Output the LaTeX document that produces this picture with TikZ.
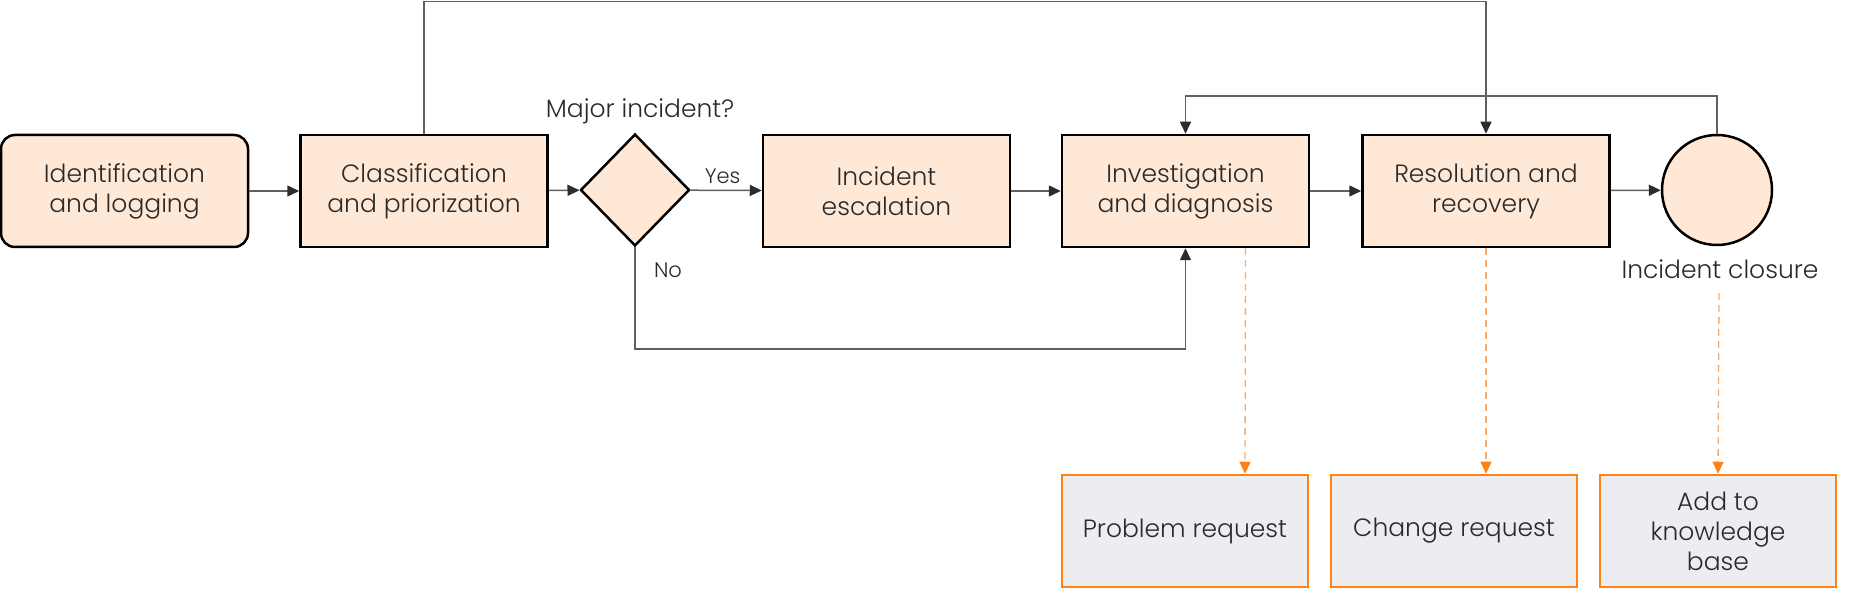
\documentclass[tikz,border=0pt]{standalone}
\usepackage{fontspec}
\setmainfont{Poppins}[UprightFont=* Light]
\usetikzlibrary{arrows.meta,shapes.geometric,calc}
\definecolor{peach}{HTML}{FFE8D5}
\definecolor{greybox}{HTML}{ECEDF1}
\definecolor{orangeb}{HTML}{FF8214}
\definecolor{orangel}{HTML}{FFAA66}
\definecolor{conn}{HTML}{606060}
\definecolor{tipc}{HTML}{2B2B30}
\definecolor{txt}{HTML}{2A2A2A}
\tikzset{
  procbox/.style={draw=black, line width=2.5pt, fill=peach, minimum width=247pt, minimum height=112pt, align=center, inner sep=0pt, text=txt, font=\fontsize{25}{30}\selectfont},
  outbox/.style={draw=orangeb, line width=2.5pt, fill=greybox, minimum width=246pt, minimum height=112pt, align=center, inner sep=0pt, text=txt, font=\fontsize{25}{30}\selectfont},
  flow/.style={draw=conn, line width=1.5pt, -{Triangle[length=12pt,width=11pt,color=tipc]}},
  dflow/.style={draw=orangel, line width=1.3pt, dash pattern=on 7pt off 5pt, -{Triangle[length=12pt,width=11pt,color=orangeb]}},
  lbl/.style={text=txt, inner sep=0pt, font=\fontsize{25}{30}\selectfont},
  slbl/.style={text=txt, inner sep=0pt, font=\fontsize{21}{25}\selectfont}
}
\begin{document}
\begin{tikzpicture}[x=1pt,y=-1pt]
\useasboundingbox (0,0) rectangle (1875,593);
\node[procbox, rounded corners=14pt] (id) at (124.5,191) {Identification\\and logging};
\node[procbox] (cls) at (424,191) {Classification\\and priorization};
\node[draw=black, line width=2.5pt, fill=peach, shape=diamond, minimum width=109pt, minimum height=112pt, inner sep=0pt] (dec) at (635,190) {};
\node[lbl] (q) at (640,111) {Major incident?};
\node[procbox] (esc) at (886.5,191) {Incident\\escalation};
\node[procbox] (inv) at (1185.5,191) {Investigation\\and diagnosis};
\node[procbox] (res) at (1486,191) {Resolution and\\recovery};
\node[draw=black, line width=2.5pt, fill=peach, circle, minimum size=110pt, inner sep=0pt] (end) at (1717,190) {};
\node[lbl] (closure) at (1720,269) {Incident closure};
\coordinate (kbstart) at (1719,293);
\node[outbox] (prob) at (1185,531) {Problem request};
\node[outbox] (chg) at (1454,531) {Change request};
\node[outbox, minimum width=236pt] (kb) at (1718,531) {Add to\\knowledge\\base};

\draw[flow] (id) -- (cls);
\draw[flow] (cls) -- (dec);
\draw[flow] (dec) -- node[slbl, above=6pt, pos=0.45] (yes) {Yes} (esc);
\draw[flow] (esc) -- (inv);
\draw[flow] (inv) -- (res);
\draw[flow] (res) -- (end);
\draw[flow] (cls.north) |- (1486,1.5) -- (res.north);
\draw[flow] (end.north) |- (1185.5,96) -- (inv.north);
\draw[flow] (dec.south) |- (1185.5,349) -- (inv.south);
\node[slbl] (no) at (668,270) {No};
\draw[dflow] ([xshift=60pt]inv.south) -- ([xshift=60pt]prob.north);
\draw[dflow] (res.south) -- ([xshift=32pt]chg.north);
\draw[dflow] (kbstart) -- (kb.north);
\end{tikzpicture}
\end{document}
